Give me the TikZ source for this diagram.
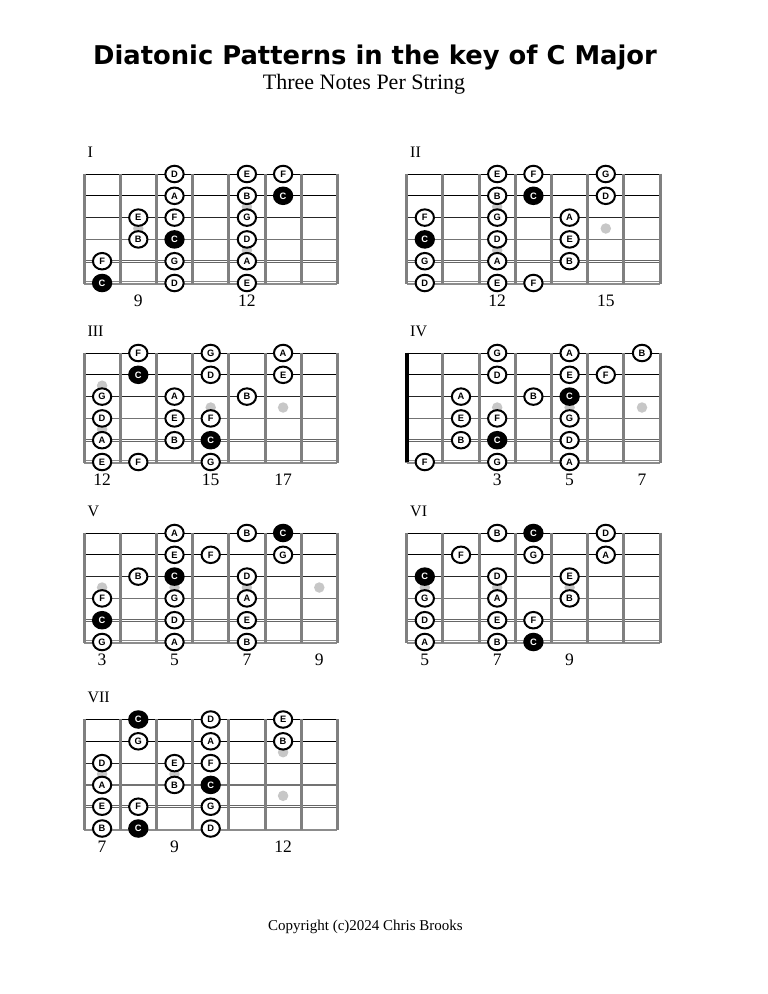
\documentclass[tikz,border=0pt]{standalone}
\usepackage{fontspec}
\setmainfont{Liberation Serif}
\newfontfamily\titlefont{DejaVu Sans}
\newfontfamily\notefont{Liberation Sans}
\usetikzlibrary{shapes.geometric}
\definecolor{fretgray}{gray}{0.5}
\definecolor{inlaygray}{gray}{0.78}
\tikzset{
  nt/.style={ellipse, draw=black, line width=2pt, fill=white, minimum width=18.3pt, minimum height=16.5pt, inner sep=0pt, font=\notefont\bfseries\fontsize{9.3}{9.3}\selectfont},
  rt/.style={nt, fill=black, text=white},
  inlay/.style={circle, fill=inlaygray, minimum size=10.5pt, inner sep=0pt},
  fretline/.style={line width=3pt, draw=fretgray},
  nutline/.style={line width=4pt, draw=black},
  fretnum/.style={anchor=base, font=\fontsize{17.5}{17.5}\selectfont},
  roman/.style={anchor=base west, font=\fontsize{16}{16}\selectfont},
  sA/.style={draw=black, line width=0.9pt},
  sB/.style={draw=black!85, line width=1.2pt},
  sC/.style={draw=black!55, line width=1.7pt},
  sD/.style={draw=black!60, line width=3pt},
  sE/.style={draw=black!45, line width=4pt},
  swhite/.style={draw=white},
}
\def\fw{36.2}
\def\sh{21.8}
% #1 x0, #2 top, #3 first fret, #4 label, #5 numbers, #6 inlays, #7 notes
\newcommand\fboard[7]{%
\begin{scope}[shift={(#1,#2)}]
  \node[roman] (#4-label) at (0,-17) {#4};
  \draw[sA] (0,0) -- (7*\fw,0);
  \draw[sA] (0,\sh) -- (7*\fw,\sh);
  \draw[sB] (0,2*\sh) -- (7*\fw,2*\sh);
  \draw[sC] (0,3*\sh) -- (7*\fw,3*\sh);
  \draw[sD] (0,4*\sh) -- (7*\fw,4*\sh);
  \draw[swhite, line width=1pt] (0,4*\sh) -- (7*\fw,4*\sh);
  \draw[sE] (0,5*\sh) -- (7*\fw,5*\sh);
  \draw[swhite, line width=1.5pt] (0,5*\sh-0.4) -- (7*\fw,5*\sh-0.4);
  \foreach \k in {0,...,7} {\draw[fretline] (\k*\fw,-0.5) -- (\k*\fw,5*\sh+1);}
  \foreach \f in {#6} {%
    \ifnum\f=12
      \node[inlay] (#4-dotA-\f) at ({(\f-#3+0.5)*\fw},1.5*\sh) {};
      \node[inlay] (#4-dotB-\f) at ({(\f-#3+0.5)*\fw},3.5*\sh) {};
    \else
      \node[inlay] (#4-dot-\f) at ({(\f-#3+0.5)*\fw},2.5*\sh) {};
    \fi}
  \foreach \s/\f/\n/\st in {#7} {%
    \node[\st] (#4-\s-\f) at ({(\f-#3+0.5)*\fw},{(\s-1)*\sh}) {\n};}
  \foreach \f in {#5} {%
    \node[fretnum] (#4-num-\f) at ({(\f-#3+0.5)*\fw},132.5) {\f};}
\end{scope}}
\begin{document}
\begin{tikzpicture}[x=1pt,y=-1pt]
\useasboundingbox[fill=white] (0,0) rectangle (768,994);
\node[anchor=base, font=\titlefont\bfseries\fontsize{25.8}{26}\selectfont] (title) at (375,64) {Diatonic Patterns in the key of C Major};
\node[anchor=base, font=\fontsize{22}{22}\selectfont] (subtitle) at (364,89) {Three Notes Per String};
\node[anchor=base, font=\fontsize{15}{15}\selectfont] (copyright) at (365.5,930) {Copyright (c)2024 Chris Brooks};

\fboard{84}{174}{8}{I}{9,12}{9,12}{%
1/10/D/nt, 1/12/E/nt, 1/13/F/nt,
2/10/A/nt, 2/12/B/nt, 2/13/C/rt,
3/9/E/nt, 3/10/F/nt, 3/12/G/nt,
4/9/B/nt, 4/10/C/rt, 4/12/D/nt,
5/8/F/nt, 5/10/G/nt, 5/12/A/nt,
6/8/C/rt, 6/10/D/nt, 6/12/E/nt}

\fboard{406.7}{174}{10}{II}{12,15}{12,15}{%
1/12/E/nt, 1/13/F/nt, 1/15/G/nt,
2/12/B/nt, 2/13/C/rt, 2/15/D/nt,
3/10/F/nt, 3/12/G/nt, 3/14/A/nt,
4/10/C/rt, 4/12/D/nt, 4/14/E/nt,
5/10/G/nt, 5/12/A/nt, 5/14/B/nt,
6/10/D/nt, 6/12/E/nt, 6/13/F/nt}

\fboard{84}{353}{12}{III}{12,15,17}{12,15,17}{%
1/13/F/nt, 1/15/G/nt, 1/17/A/nt,
2/13/C/rt, 2/15/D/nt, 2/17/E/nt,
3/12/G/nt, 3/14/A/nt, 3/16/B/nt,
4/12/D/nt, 4/14/E/nt, 4/15/F/nt,
5/12/A/nt, 5/14/B/nt, 5/15/C/rt,
6/12/E/nt, 6/13/F/nt, 6/15/G/nt}

\fboard{406.7}{353}{1}{IV}{3,5,7}{3,5,7}{%
1/3/G/nt, 1/5/A/nt, 1/7/B/nt,
2/3/D/nt, 2/5/E/nt, 2/6/F/nt,
3/2/A/nt, 3/4/B/nt, 3/5/C/rt,
4/2/E/nt, 4/3/F/nt, 4/5/G/nt,
5/2/B/nt, 5/3/C/rt, 5/5/D/nt,
6/1/F/nt, 6/3/G/nt, 6/5/A/nt}
\coordinate (nutT) at (406.7,352.5);
\coordinate (nutB) at (406.7,353+5*21.8);
\draw[nutline] (nutT) -- (nutB);

\fboard{84}{533}{3}{V}{3,5,7,9}{3,5,7,9}{%
1/5/A/nt, 1/7/B/nt, 1/8/C/rt,
2/5/E/nt, 2/6/F/nt, 2/8/G/nt,
3/4/B/nt, 3/5/C/rt, 3/7/D/nt,
4/3/F/nt, 4/5/G/nt, 4/7/A/nt,
5/3/C/rt, 5/5/D/nt, 5/7/E/nt,
6/3/G/nt, 6/5/A/nt, 6/7/B/nt}

\fboard{406.7}{533}{5}{VI}{5,7,9}{5,7,9}{%
1/7/B/nt, 1/8/C/rt, 1/10/D/nt,
2/6/F/nt, 2/8/G/nt, 2/10/A/nt,
3/5/C/rt, 3/7/D/nt, 3/9/E/nt,
4/5/G/nt, 4/7/A/nt, 4/9/B/nt,
5/5/D/nt, 5/7/E/nt, 5/8/F/nt,
6/5/A/nt, 6/7/B/nt, 6/8/C/rt}

\fboard{84}{719.5}{7}{VII}{7,9,12}{7,9,12}{%
1/8/C/rt, 1/10/D/nt, 1/12/E/nt,
2/8/G/nt, 2/10/A/nt, 2/12/B/nt,
3/7/D/nt, 3/9/E/nt, 3/10/F/nt,
4/7/A/nt, 4/9/B/nt, 4/10/C/rt,
5/7/E/nt, 5/8/F/nt, 5/10/G/nt,
6/7/B/nt, 6/8/C/rt, 6/10/D/nt}
\end{tikzpicture}
\end{document}
